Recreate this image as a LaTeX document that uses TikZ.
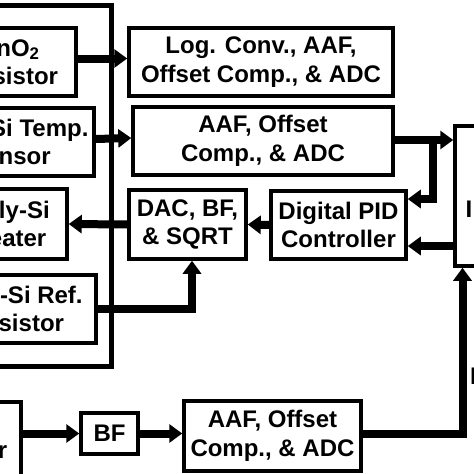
\documentclass[tikz,border=0pt]{standalone}
\usepackage{fontspec}
\setmainfont{Liberation Sans}
\usetikzlibrary{arrows.meta}

\begin{document}
\begin{tikzpicture}[x=1pt,y=-1pt,
		blk/.style={draw, line width=3.5pt, align=center, inner sep=0pt, font=\fontsize{24}{28.5}\selectfont\bfseries},
		txt/.style={inner sep=0pt, font=\fontsize{24}{28.5}\selectfont\bfseries},
		arr/.style={line width=8pt, -{Triangle[length=13pt,width=18pt]}}]
		\useasboundingbox (0,0) rectangle (474,474);
		\clip (0,0) rectangle (474,474);
		% chip frame
		\draw[line width=5pt] (-80,5) rectangle (111,366);
		% on-chip blocks
		\node[blk, minimum width=132pt, minimum height=68pt] (sno) at (10,62) {SnO\textsubscript{2}\\Resistor};
		\node[blk, minimum width=168pt, minimum height=68pt] (temp) at (10,142) {Poly-Si Temp.\\Sensor};
		\node[blk, minimum width=116pt, minimum height=70pt] (heat) at (9,224) {Poly-Si\\Heater};
		\node[blk, minimum width=160pt, minimum height=68pt] (ref) at (16,309) {Poly-Si Ref.\\Resistor};
		% readout blocks
		\node[blk, minimum width=264pt, minimum height=68pt] (logc) at (261,62) {Log. Conv., AAF,\\Offset Comp., \& ADC};
		\node[blk, minimum width=260pt, minimum height=68pt] (aaf) at (263,141) {AAF, Offset\\Comp., \& ADC};
		\node[blk, minimum width=117pt, minimum height=69pt] (dac) at (187.5,224.5) {DAC, BF,\\\& SQRT};
		\node[blk, minimum width=135pt, minimum height=68pt] (pid) at (338.5,225) {Digital PID\\Controller};
		\node[blk, minimum width=120pt, minimum height=140pt] (mcu) at (515,196) {};
		\node[txt, anchor=base west] (mcutxt) at (465.5,217) {I};
		% lower chain
		\node[blk, minimum width=122pt, minimum height=100pt] (hum) at (-40,452) {};
		\node[txt, anchor=base east] (humtxt) at (7.5,458) {r};
		\node[blk, minimum width=57pt, minimum height=41pt] (bf) at (109.5,433.5) {BF};
		\node[blk, minimum width=177pt, minimum height=70pt] (low) at (272.5,436) {AAF, Offset\\Comp., \& ADC};
		\node[txt, anchor=base west] (lnktxt) at (470,384) {I};
		% connections
		\draw[arr] ([yshift=3.5pt]sno.east) -- ([yshift=3.5pt]logc.west);
		\draw[arr] ([yshift=3pt]temp.east) -- ([yshift=3pt]aaf.west);
		\draw[arr] (dac.west) -- (heat.east);
		\draw[arr] (pid.west) -- (dac.east);
		\draw[arr] (ref.east) -| ([xshift=4.5pt]dac.south);
		\coordinate (br) at (433,140);
		\draw[arr] (aaf.east |- br) -- (br -| mcu.west);
		\draw[arr] (br) |- ([yshift=26pt]pid.east);
		\draw[arr] ([yshift=-21pt]pid.east -| mcu.west) -- ([yshift=-21pt]pid.east);
		\draw[arr] ([yshift=2pt]low.east) -| ([xshift=-52.5pt]mcu.south);
		\draw[arr] (hum.east |- bf.west) -- (bf.west);
		\draw[arr] (bf.east) -- (bf.east -| low.west);
	\end{tikzpicture}
\end{document}
